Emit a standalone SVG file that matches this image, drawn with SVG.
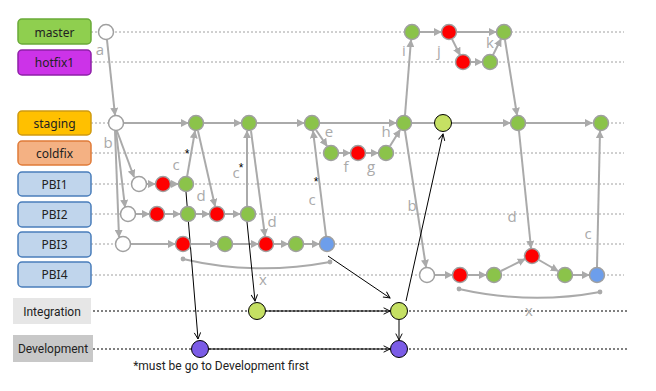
<svg xmlns="http://www.w3.org/2000/svg" width="656" height="391" viewBox="0 0 656 391">
<defs>
<marker id="ga" viewBox="0 0 10 10" refX="9" refY="5" markerWidth="4" markerHeight="4" orient="auto"><path d="M0,0 L10,5 L0,10 z" fill="#aaaaaa"/></marker>
<marker id="gd" viewBox="0 0 10 10" refX="5" refY="5" markerWidth="3" markerHeight="3"><circle cx="5" cy="5" r="4" fill="#aaaaaa"/></marker>
<marker id="ba" viewBox="0 0 10 10" refX="9" refY="5" markerWidth="8" markerHeight="8" orient="auto"><path d="M1,1 L9,5 L1,9" fill="none" stroke="#000" stroke-width="1.2"/></marker>
</defs>
<style>
.box{stroke-width:1.5}
.bt{font-family:"Noto Sans",sans-serif;font-size:12px;fill:#222;text-anchor:middle}
.lt{font-family:Roboto,sans-serif;font-size:12px;fill:#222;text-anchor:middle}
.row{stroke:#a0a0a0;stroke-width:1;stroke-dasharray:2,2;fill:none}
.brow{stroke:#000;stroke-width:1;stroke-dasharray:2,2;fill:none}
.g{stroke:#aaaaaa;stroke-width:2;fill:none;marker-end:url(#ga)}
.gc{stroke:#aaaaaa;stroke-width:2;fill:none;marker-start:url(#gd);marker-end:url(#gd)}
.b{stroke:#000;stroke-width:1;fill:none;marker-end:url(#ba)}
.lab{font-family:"Open Sans",sans-serif;font-size:15px;fill:#aaaaaa;text-anchor:middle}
.star{font-family:"Liberation Sans",sans-serif;font-size:12px;fill:#000;text-anchor:middle}
.n{stroke:#a0a0a0;stroke-width:1.5}
.w{fill:#fff}.gr{fill:#8bc34a}.r{fill:#ff0000}.bl{fill:#6d9eeb}
.yb{fill:#c5e063;stroke:#000;stroke-width:1}
.pb{fill:#7b5ce6;stroke:#000;stroke-width:1}
</style>
<g id="rows">
<line class="row" x1="91" y1="32" x2="624" y2="32"/>
<line class="row" x1="91" y1="62" x2="624" y2="62"/>
<line class="row" x1="91" y1="123" x2="624" y2="123"/>
<line class="row" x1="91" y1="153" x2="624" y2="153"/>
<line class="row" x1="91" y1="184" x2="624" y2="184"/>
<line class="row" x1="91" y1="214" x2="624" y2="214"/>
<line class="row" x1="91" y1="244" x2="624" y2="244"/>
<line class="row" x1="91" y1="275" x2="624" y2="275"/>
<line class="brow" x1="93" y1="311" x2="628" y2="311"/>
<line class="brow" x1="93" y1="349" x2="628" y2="349"/>
</g>
<g id="lbl-master"><rect class="box" x="18" y="19" width="73" height="25" rx="4" fill="#8fcf4f" stroke="#6aaa38"/><text class="bt" x="54.5" y="36.5">master</text></g>
<g id="lbl-hotfix1"><rect class="box" x="18" y="50" width="73" height="25" rx="4" fill="#cc33e8" stroke="#8e20a8"/><text class="bt" x="54.5" y="67">hotfix1</text></g>
<g id="lbl-staging"><rect class="box" x="18" y="111" width="73" height="24" rx="4" fill="#ffc000" stroke="#cf9a10"/><text class="bt" x="54.5" y="127.5">staging</text></g>
<g id="lbl-coldfix"><rect class="box" x="18" y="141" width="73" height="24" rx="4" fill="#f4b183" stroke="#e07b39"/><text class="bt" x="54.5" y="157.5">coldfix</text></g>
<g id="lbl-pbi1"><rect class="box" x="18" y="172" width="73" height="24" rx="4" fill="#c0d5ec" stroke="#4a7ebb"/><text class="bt" x="54.5" y="188.5">PBI1</text></g>
<g id="lbl-pbi2"><rect class="box" x="18" y="202" width="73" height="25" rx="4" fill="#c0d5ec" stroke="#4a7ebb"/><text class="bt" x="54.5" y="218.5">PBI2</text></g>
<g id="lbl-pbi3"><rect class="box" x="18" y="232" width="73" height="25" rx="4" fill="#c0d5ec" stroke="#4a7ebb"/><text class="bt" x="54.5" y="248.5">PBI3</text></g>
<g id="lbl-pbi4"><rect class="box" x="18" y="262" width="73" height="25" rx="4" fill="#c0d5ec" stroke="#4a7ebb"/><text class="bt" x="54.5" y="279">PBI4</text></g>
<g id="lbl-integration"><rect x="13" y="298" width="78" height="26" fill="#e6e6e6"/><text class="lt" x="52" y="315.5">Integration</text></g>
<g id="lbl-development"><rect x="13" y="335" width="80" height="27" fill="#c8c8c8"/><text class="lt" x="53" y="353">Development</text></g>
<g id="connectors">
<line class="g" x1="107" y1="40" x2="115" y2="115"/>
<line class="g" x1="124" y1="123" x2="188" y2="123"/>
<line class="g" x1="204" y1="123" x2="241" y2="123"/>
<line class="g" x1="257" y1="123" x2="304" y2="123"/>
<line class="g" x1="320" y1="123" x2="396" y2="123"/>
<line class="g" x1="412" y1="123" x2="510" y2="123"/>
<line class="g" x1="526" y1="123" x2="592" y2="123"/>
<line class="g" x1="117" y1="131" x2="134" y2="177"/>
<line class="g" x1="116" y1="131" x2="125" y2="207"/>
<line class="g" x1="115" y1="131" x2="119" y2="237"/>
<line class="g" x1="147" y1="184" x2="155" y2="184"/>
<line class="g" x1="171" y1="184" x2="178" y2="184"/>
<line class="g" x1="187" y1="177" x2="195" y2="131"/>
<line class="g" x1="198" y1="131" x2="215" y2="206"/>
<line class="g" x1="136" y1="214" x2="149" y2="214"/>
<line class="g" x1="165" y1="214" x2="180" y2="214"/>
<line class="g" x1="196" y1="214" x2="209" y2="214"/>
<line class="g" x1="225" y1="214" x2="240" y2="214"/>
<line class="g" x1="247" y1="206" x2="247" y2="131"/>
<line class="g" x1="251" y1="131" x2="265" y2="236"/>
<line class="g" x1="131" y1="244" x2="175" y2="244"/>
<line class="g" x1="191" y1="244" x2="217" y2="244"/>
<line class="g" x1="233" y1="244" x2="258" y2="244"/>
<line class="g" x1="274" y1="244" x2="288" y2="244"/>
<line class="g" x1="304" y1="244" x2="319" y2="244"/>
<line class="g" x1="326" y1="236" x2="313" y2="131"/>
<line class="g" x1="316" y1="130" x2="327" y2="146"/>
<line class="g" x1="339" y1="153" x2="350" y2="153"/>
<line class="g" x1="366" y1="153" x2="378" y2="153"/>
<line class="g" x1="390" y1="146" x2="400" y2="130"/>
<line class="g" x1="405" y1="115" x2="411" y2="40"/>
<line class="g" x1="420" y1="32" x2="441" y2="32"/>
<line class="g" x1="457" y1="32" x2="496" y2="32"/>
<line class="g" x1="452" y1="39" x2="460" y2="55"/>
<line class="g" x1="471" y1="62" x2="482" y2="62"/>
<line class="g" x1="493" y1="55" x2="501" y2="39"/>
<line class="g" x1="505" y1="40" x2="517" y2="115"/>
<line class="g" x1="405" y1="131" x2="426" y2="267"/>
<line class="g" x1="435" y1="275" x2="452" y2="275"/>
<line class="g" x1="468" y1="275" x2="486" y2="275"/>
<line class="g" x1="501" y1="271" x2="525" y2="259"/>
<line class="g" x1="539" y1="260" x2="558" y2="271"/>
<line class="g" x1="573" y1="275" x2="589" y2="275"/>
<line class="g" x1="519" y1="131" x2="531" y2="248"/>
<line class="g" x1="597" y1="267" x2="600" y2="131"/>
<path class="gc" d="M183,259 Q255,276 330,262"/>
<path class="gc" d="M459,289 Q530,305 600,292"/>
<line class="b" x1="186" y1="192" x2="198" y2="339"/>
<line class="b" x1="247" y1="222" x2="255" y2="301"/>
<line x1="266" y1="311" x2="390" y2="311" class="b"/>
<line x1="208" y1="349" x2="390" y2="349" class="b"/>
<line class="b" x1="328" y1="256" x2="390" y2="298"/>
<line class="b" x1="406" y1="301" x2="443" y2="134"/>
<line class="b" x1="399" y1="320" x2="399" y2="340"/>
</g>
<g id="labels">
<text class="lab" x="100" y="55">a</text>
<text class="lab" x="108" y="148">b</text>
<text class="lab" x="176" y="170">c</text>
<text class="lab" x="201" y="201">d</text>
<text class="lab" x="236" y="178">c</text>
<text class="lab" x="272" y="227">d</text>
<text class="lab" x="329" y="137">e</text>
<text class="lab" x="346" y="172">f</text>
<text class="lab" x="371" y="172">g</text>
<text class="lab" x="386" y="137">h</text>
<text class="lab" x="312" y="205">c</text>
<text class="lab" x="412" y="211">b</text>
<text class="lab" x="404" y="56">i</text>
<text class="lab" x="439" y="56">j</text>
<text class="lab" x="490" y="48">k</text>
<text class="lab" x="512" y="222">d</text>
<text class="lab" x="588" y="239">c</text>
<text class="lab" x="263" y="285">x</text>
<text class="lab" x="529" y="316">x</text>
<text class="star" x="187" y="158">*</text>
<text class="star" x="241" y="172">*</text>
<text class="star" x="316" y="186">*</text>
<text class="lt" x="221" y="370">*must be go to Development first</text>
</g>
<g id="n-m0"><circle class="n w" cx="106" cy="32" r="7.5"/></g>
<g id="n-m1"><circle class="n gr" cx="412" cy="32" r="7.5"/></g>
<g id="n-m2"><circle class="n r" cx="449" cy="32" r="7.5"/></g>
<g id="n-m3"><circle class="n gr" cx="504" cy="32" r="7.5"/></g>
<g id="n-h1"><circle class="n r" cx="463" cy="62" r="7.5"/></g>
<g id="n-h2"><circle class="n gr" cx="490" cy="62" r="7.5"/></g>
<g id="n-s0"><circle class="n w" cx="116" cy="123" r="7.5"/></g>
<g id="n-s1"><circle class="n gr" cx="196" cy="123" r="7.5"/></g>
<g id="n-s2"><circle class="n gr" cx="249" cy="123" r="7.5"/></g>
<g id="n-s3"><circle class="n gr" cx="312" cy="123" r="7.5"/></g>
<g id="n-s4"><circle class="n gr" cx="404" cy="123" r="7.5"/></g>
<g id="n-s5"><circle class="yb" cx="443" cy="123" r="8.5"/></g>
<g id="n-s6"><circle class="n gr" cx="518" cy="123" r="7.5"/></g>
<g id="n-s7"><circle class="n gr" cx="601" cy="123" r="7.5"/></g>
<g id="n-c1"><circle class="n gr" cx="331" cy="153" r="7.5"/></g>
<g id="n-c2"><circle class="n r" cx="358" cy="153" r="7.5"/></g>
<g id="n-c3"><circle class="n gr" cx="386" cy="153" r="7.5"/></g>
<g id="n-p1a"><circle class="n w" cx="139" cy="184" r="7.5"/></g>
<g id="n-p1b"><circle class="n r" cx="163" cy="184" r="7.5"/></g>
<g id="n-p1c"><circle class="n gr" cx="186" cy="184" r="7.5"/></g>
<g id="n-p2a"><circle class="n w" cx="128" cy="214" r="7.5"/></g>
<g id="n-p2b"><circle class="n r" cx="157" cy="214" r="7.5"/></g>
<g id="n-p2c"><circle class="n gr" cx="188" cy="214" r="7.5"/></g>
<g id="n-p2d"><circle class="n r" cx="217" cy="214" r="7.5"/></g>
<g id="n-p2e"><circle class="n gr" cx="248" cy="214" r="7.5"/></g>
<g id="n-p3a"><circle class="n w" cx="123" cy="244" r="7.5"/></g>
<g id="n-p3b"><circle class="n r" cx="183" cy="244" r="7.5"/></g>
<g id="n-p3c"><circle class="n gr" cx="225" cy="244" r="7.5"/></g>
<g id="n-p3d"><circle class="n r" cx="266" cy="244" r="7.5"/></g>
<g id="n-p3e"><circle class="n gr" cx="296" cy="244" r="7.5"/></g>
<g id="n-p3f"><circle class="n bl" cx="327" cy="244" r="7.5"/></g>
<g id="n-p4a"><circle class="n w" cx="427" cy="275" r="7.5"/></g>
<g id="n-p4b"><circle class="n r" cx="460" cy="275" r="7.5"/></g>
<g id="n-p4c"><circle class="n gr" cx="494" cy="275" r="7.5"/></g>
<g id="n-p4d"><circle class="n r" cx="532" cy="256" r="7.5"/></g>
<g id="n-p4e"><circle class="n gr" cx="565" cy="275" r="7.5"/></g>
<g id="n-p4f"><circle class="n bl" cx="597" cy="275" r="7.5"/></g>
<g id="n-i1"><circle class="yb" cx="257" cy="311" r="8.5"/></g>
<g id="n-i2"><circle class="yb" cx="399" cy="311" r="8.5"/></g>
<g id="n-d1"><circle class="pb" cx="200" cy="349" r="8.5"/></g>
<g id="n-d2"><circle class="pb" cx="399" cy="349" r="8.5"/></g>
</svg>
